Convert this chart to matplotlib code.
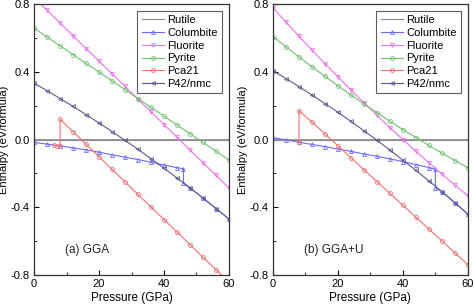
import matplotlib
matplotlib.use("Agg")
import matplotlib.pyplot as plt
from matplotlib.ticker import MultipleLocator

# pressure grid (GPa), markers every 4 GPa
p = [0, 4, 8, 12, 16, 20, 24, 28, 32, 36, 40, 44, 48, 52, 56, 60]

# ---- (a) GGA ----
gga_rutile = [0.0] * 16
gga_fluorite = [0.837, 0.762, 0.687, 0.612, 0.537, 0.462, 0.388, 0.313, 0.238, 0.163,
                0.088, 0.013, -0.062, -0.136, -0.211, -0.286]
gga_pyrite = [0.657, 0.605, 0.553, 0.501, 0.449, 0.398, 0.346, 0.294, 0.242, 0.190,
              0.138, 0.086, 0.034, -0.017, -0.069, -0.121]
gga_p42 = [0.332, 0.288, 0.242, 0.195, 0.147, 0.098, 0.047, -0.005, -0.058, -0.113,
           -0.169, -0.227, -0.285, -0.345, -0.407, -0.469]
gga_col_p = [0, 4, 8, 12, 16, 20, 24, 28, 32, 36, 40, 44, 46, 46, 48, 52, 56, 60]
gga_col = [-0.017, -0.027, -0.038, -0.049, -0.061, -0.075, -0.090, -0.104, -0.118,
           -0.134, -0.150, -0.166, -0.172, -0.256, -0.285, -0.345, -0.407, -0.469]
gga_pca_p = [6, 7, 8, 8, 12, 16, 20, 24, 28, 32, 36, 40, 44, 48, 52, 56, 60]
gga_pca = [-0.034, -0.036, -0.038, 0.120, 0.046, -0.028, -0.102, -0.176, -0.250, -0.324,
           -0.398, -0.472, -0.546, -0.620, -0.694, -0.768, -0.842]

# ---- (b) GGA+U ----
u_rutile = [0.0] * 16
u_fluorite = [0.777, 0.692, 0.609, 0.528, 0.448, 0.370, 0.293, 0.217, 0.143, 0.071,
              0.0, -0.069, -0.137, -0.204, -0.269, -0.332]
u_pyrite = [0.607, 0.547, 0.487, 0.429, 0.373, 0.317, 0.263, 0.210, 0.159, 0.108,
            0.059, 0.012, -0.035, -0.080, -0.124, -0.166]
u_p42 = [0.406, 0.360, 0.312, 0.263, 0.212, 0.161, 0.107, 0.052, -0.004, -0.062,
         -0.122, -0.182, -0.244, -0.307, -0.373, -0.440]
u_col_p = [0, 4, 8, 12, 16, 20, 24, 28, 32, 36, 40, 44, 48, 50, 50, 52, 56, 60]
u_col = [0.012, -0.002, -0.016, -0.029, -0.042, -0.056, -0.070, -0.085, -0.099, -0.114,
         -0.130, -0.148, -0.165, -0.176, -0.285, -0.307, -0.373, -0.440]
u_pca_p = [8, 8, 12, 16, 20, 24, 28, 32, 36, 40, 44, 48, 52, 56, 60]
u_pca = [-0.016, 0.170, 0.103, 0.033, -0.037, -0.108, -0.178, -0.248, -0.318, -0.388,
         -0.458, -0.528, -0.598, -0.668, -0.738]

panels = [
    ("(a) GGA", gga_rutile, gga_col_p, gga_col, gga_fluorite, gga_pyrite, gga_pca_p, gga_pca, gga_p42),
    ("(b) GGA+U", u_rutile, u_col_p, u_col, u_fluorite, u_pyrite, u_pca_p, u_pca, u_p42),
]

plt.rcParams['font.family'] = ['Liberation Sans', 'DejaVu Sans']
fig = plt.figure(figsize=(4.74, 3.04), dpi=100)
lefts = [0.072, 0.576]
w = 0.411
ms = 2.8
lw = 0.8

for left, (tag, rut, cp, cv, flu, pyr, pp, pv, p42) in zip(lefts, panels):
    ax = fig.add_axes([left, 0.095, w, 0.892])
    ax.axhline(0, color='#9a9a9a', lw=1.4, zorder=1)
    ax.plot(p, rut, color='#8a8a8a', lw=lw, label='Rutile')
    ax.plot(cp, cv, color='#6a6aff', lw=lw, marker='^', ms=ms, mfc='none', mew=0.6,
            label='Columbite')
    ax.plot(p, flu, color='#ee70ee', lw=lw, marker='v', ms=ms, mfc='none', mew=0.6,
            label='Fluorite')
    ax.plot(p, pyr, color='#70c070', lw=lw, marker='o', ms=ms, mfc='none', mew=0.6,
            label='Pyrite')
    ax.plot(pp, pv, color='#f07070', lw=lw, marker='o', ms=ms, mfc='none', mew=0.6,
            label='Pca21')
    ax.plot(p, p42, color='#5a5a90', lw=lw, marker='<', ms=ms, mfc='none', mew=0.6,
            label='P42/nmc')
    ax.set_xlim(0, 60)
    ax.set_ylim(-0.8, 0.8)
    ax.xaxis.set_major_locator(MultipleLocator(20))
    ax.xaxis.set_minor_locator(MultipleLocator(10))
    ax.yaxis.set_major_locator(MultipleLocator(0.4))
    ax.yaxis.set_minor_locator(MultipleLocator(0.2))
    ax.set_yticklabels([f"{v:.1f}" for v in ax.get_yticks()])
    ax.tick_params(which='both', direction='in', labelsize=8, top=False, right=False, pad=3)
    ax.tick_params(which='major', length=3.5)
    ax.tick_params(which='minor', length=2)
    for s in ax.spines.values():
        s.set_color('#333333')
        s.set_linewidth(0.9)
    ax.set_xlabel('Pressure (GPa)', fontsize=8.5, labelpad=2)
    ax.set_ylabel('Enthalpy (eV/formula)', fontsize=8, labelpad=1)
    ax.text(0.16, 0.08, tag, transform=ax.transAxes, fontsize=8.5, color='#222222')
    leg = ax.legend(loc='upper right', fontsize=8, frameon=True, fancybox=False,
                    edgecolor='#333333', handlelength=2.0, handletextpad=0.3,
                    labelspacing=0.25, borderpad=0.4, borderaxespad=0.6)
    leg.get_frame().set_linewidth(0.8)

fig.savefig('out.png', dpi=100)
